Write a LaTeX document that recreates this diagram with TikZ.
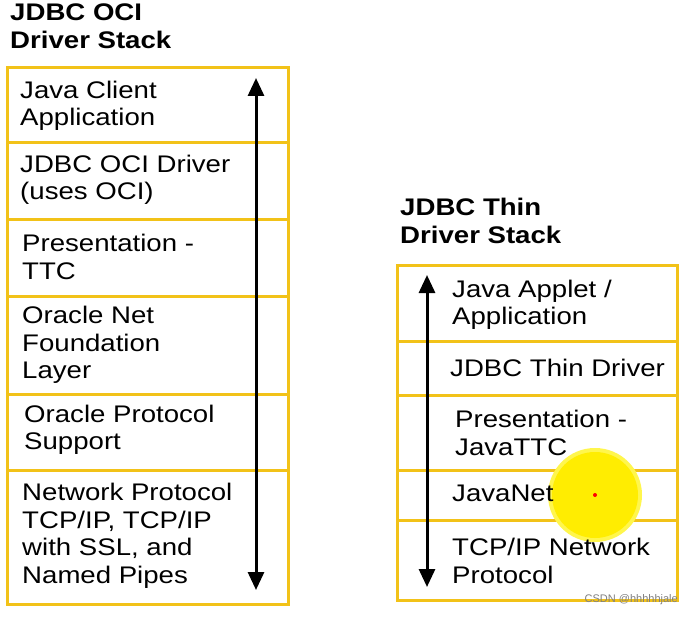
\documentclass[tikz,border=0pt]{standalone}
\usepackage{fontspec}
\setmainfont{Liberation Sans}
\usetikzlibrary{arrows.meta}
\definecolor{gold}{RGB}{242,194,24}
\begin{document}
\begin{tikzpicture}[x=1pt,y=-1pt,
  box/.style={draw=gold,line width=3pt},
  lbl/.style={anchor=west,align=left,inner sep=0pt,xscale=1.15,font=\fontsize{24}{27.5}\selectfont},
  ttl/.style={anchor=north west,align=left,inner sep=0pt,xscale=1.15,font=\bfseries\fontsize{24}{28}\selectfont},
  arr/.style={line width=3pt,{Triangle[length=18pt,width=16pt]}-{Triangle[length=18pt,width=16pt]}}]
\useasboundingbox (0,0) rectangle (692,617);
% left stack
\node[ttl] (t1) at (10,4) {JDBC OCI\\Driver Stack};
\fill[white] (7,68) rectangle (288,604);
\draw[box] (7,68) rectangle (288,604);
\foreach \y in {143,220,296,394,470} \draw[box] (7,\y) -- (288,\y);
\node[lbl] (l1) at (20,106) {Java Client\\Application};
\node[lbl] (l2) at (20,180) {JDBC OCI Driver\\(uses OCI)};
\node[lbl] (l3) at (22,257) {Presentation -\\TTC};
\node[lbl] (l4) at (22,345) {Oracle Net\\Foundation\\Layer};
\node[lbl] (l5) at (24,430) {Oracle Protocol\\Support};
\node[lbl] (l6) at (22,536) {Network Protocol\\TCP/IP, TCP/IP\\with SSL, and\\Named Pipes};
\coordinate (a1) at (256,78);
\coordinate (a2) at (256,590);
\draw[arr] (a1) -- (a2);
% right stack
\node[ttl] (t2) at (400,198) {JDBC Thin\\Driver Stack};
\fill[white] (397,265) rectangle (677,600);
\draw[box] (397,265) rectangle (677,600);
\foreach \y in {341,395,470,520} \draw[box] (397,\y) -- (677,\y);
\fill[yellow!70!white] (595,495) circle (47);
\fill[yellow!95!orange] (595,495) circle (43);
\fill[red] (595,495) circle (2);
\node[lbl] (r1) at (452,305) {Java Applet /\\Application};
\node[lbl] (r2) at (450,368) {JDBC Thin Driver};
\node[lbl] (r3) at (455,433) {Presentation -\\JavaTTC};
\node[lbl] (r4) at (452,493) {JavaNet};
\node[lbl] (r5) at (452,561) {TCP/IP Network\\Protocol};
\coordinate (b1) at (427,275);
\coordinate (b2) at (427,587);
\draw[arr] (b1) -- (b2);
\node[anchor=east,inner sep=0pt,text=gray,font=\fontsize{11}{13}\selectfont] (wm) at (678,600) {CSDN @hhhhhjale};
\end{tikzpicture}
\end{document}
